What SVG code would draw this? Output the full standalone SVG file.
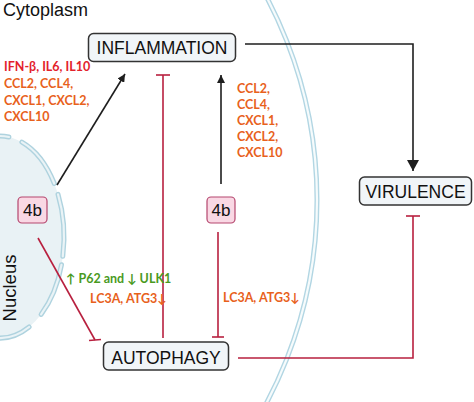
<svg xmlns="http://www.w3.org/2000/svg" width="474" height="402" viewBox="0 0 474 402">
<defs>
<style>
.main{font-family:"Liberation Sans",Arial,sans-serif;font-size:17.5px;fill:#111;text-anchor:middle}
.box{fill:#f1f5f8;stroke:#333;stroke-width:1.5}
.vbox{fill:#f9d8e4;stroke:#b5466e;stroke-width:1.2}
.lbl{font-family:Lato,"Open Sans",sans-serif;font-weight:bold;font-size:12.5px}
.red{fill:#e3222c}
.org{fill:#e8611c}
.grn{fill:#4a9a1e}
.blk{stroke:#1e1e1e;stroke-width:1.6;fill:none}
.inh{stroke:#b8203f;stroke-width:1.6;fill:none}
.mem{fill:none;stroke:#b2d6e3;stroke-width:5}
.memin{fill:none;stroke:#f6fbfc;stroke-width:2.2}
.nuc{fill:none;stroke:#afd3df;stroke-width:5;stroke-linecap:round}
.nucin{fill:none;stroke:#eaf3f6;stroke-width:2.2;stroke-linecap:round}
</style>
<marker id="ah" viewBox="0 0 10 10" refX="10" refY="5" markerWidth="8" markerHeight="8" markerUnits="userSpaceOnUse" orient="auto">
<path d="M0,0 L10,5 L0,10 z" fill="#1e1e1e"/>
</marker>
<marker id="ahL" viewBox="0 0 10 10" refX="10" refY="5" markerWidth="11" markerHeight="12" markerUnits="userSpaceOnUse" orient="auto" preserveAspectRatio="none">
<path d="M0,0 L10,5 L0,10 z" fill="#1e1e1e"/>
</marker>
</defs>
<rect width="474" height="402" fill="#ffffff"/>
<!-- cell membrane -->
<g id="membrane">
<circle cx="-116" cy="200" r="433" class="mem"/>
<circle cx="-116" cy="200" r="433" class="memin"/>
</g>
<!-- nucleus -->
<g id="nucleus">
<ellipse cx="0" cy="237" rx="64" ry="101" fill="#e9f2f5"/>
<g>
<path d="M-11,137.5 A64 101 0 0 1 8.9,137" class="nuc"/>
<path d="M21.9,142.1 A64 101 0 0 1 54.3,183.5" class="nuc"/>
<path d="M58,194.3 A64 101 0 0 1 62.8,256.3" class="nuc"/>
<path d="M61.5,264.8 A64 101 0 0 1 41.1,314.4" class="nuc"/>
<path d="M29.1,327 A64 101 0 0 1 -11.1,336.5" class="nuc"/>
<path d="M-11,137.5 A64 101 0 0 1 8.9,137" class="nucin"/>
<path d="M21.9,142.1 A64 101 0 0 1 54.3,183.5" class="nucin"/>
<path d="M58,194.3 A64 101 0 0 1 62.8,256.3" class="nucin"/>
<path d="M61.5,264.8 A64 101 0 0 1 41.1,314.4" class="nucin"/>
<path d="M29.1,327 A64 101 0 0 1 -11.1,336.5" class="nucin"/>
</g>
<text x="15.5" y="288" transform="rotate(-90 15.5 288)" class="main" style="font-size:18.5px">Nucleus</text>
</g>
<text id="cytoplasm" x="3" y="16" style="font-family:'Liberation Sans',Arial,sans-serif;font-size:18px;fill:#111">Cytoplasm</text>
<!-- connectors -->
<g id="connectors">
<line x1="57" y1="185" x2="125" y2="74" class="blk" marker-end="url(#ah)"/>
<line x1="221" y1="184" x2="221" y2="75" class="blk" marker-end="url(#ah)"/>
<polyline points="245,44 413,44 413,171" class="blk" marker-end="url(#ahL)"/>
<line x1="163" y1="338" x2="163" y2="75" class="inh"/>
<line x1="156" y1="75" x2="170" y2="75" class="inh"/>
<line x1="218" y1="232" x2="218" y2="337" class="inh"/>
<line x1="212" y1="337" x2="224" y2="337" class="inh"/>
<line x1="38" y1="238" x2="95" y2="340" class="inh"/>
<line x1="89" y1="340.5" x2="101" y2="339.5" class="inh"/>
<polyline points="238,358 413,358 413,216" class="inh"/>
<line x1="406" y1="216" x2="420" y2="216" class="inh"/>
</g>
<!-- nodes -->
<g id="inflammation">
<rect x="88.5" y="33.5" width="147" height="28" rx="5" class="box"/>
<text x="162" y="54" class="main">INFLAMMATION</text>
</g>
<g id="virulence">
<rect x="359.5" y="177" width="112" height="28" rx="5" class="box"/>
<text x="415.5" y="197.5" class="main">VIRULENCE</text>
</g>
<g id="autophagy">
<rect x="103.5" y="342" width="125" height="28" rx="5" class="box"/>
<text x="166" y="363.5" class="main">AUTOPHAGY</text>
</g>
<g id="n4b-left">
<rect x="18" y="197" width="29" height="26" rx="4" class="vbox"/>
<text x="32.5" y="216" class="main" style="font-size:17px">4b</text>
</g>
<g id="n4b-right">
<rect x="207" y="197" width="28" height="26" rx="4" class="vbox"/>
<text x="221" y="216" class="main" style="font-size:17px">4b</text>
</g>
<!-- labels -->
<g id="labels" class="lbl">
<text x="4" y="71" class="red">IFN-β, IL6, IL10</text>
<text x="4" y="88" class="org">CCL2, CCL4,</text>
<text x="4" y="104.5" class="org">CXCL1, CXCL2,</text>
<text x="4" y="121" class="org">CXCL10</text>
<text x="237" y="92.5" class="org">CCL2,</text>
<text x="237" y="108.5" class="org">CCL4,</text>
<text x="237" y="124.5" class="org">CXCL1,</text>
<text x="237" y="140.5" class="org">CXCL2,</text>
<text x="237" y="156.5" class="org">CXCL10</text>
<text x="66" y="282.5" class="grn">↑ P62 and ↓ ULK1</text>
<text x="90" y="302.5" class="org">LC3A, ATG3↓</text>
<text x="223" y="301.5" class="org">LC3A, ATG3↓</text>
</g>
</svg>
